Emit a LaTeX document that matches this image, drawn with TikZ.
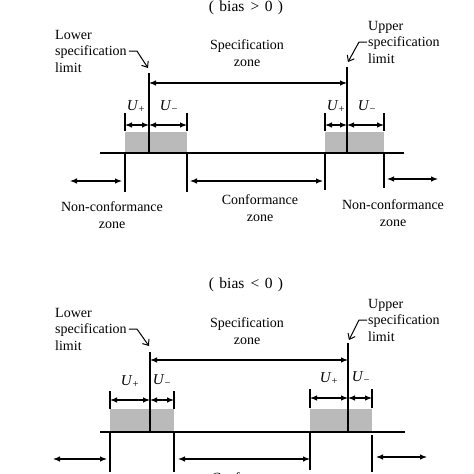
\documentclass[tikz,border=0pt]{standalone}
\usepackage{fontspec}
\setmainfont{Liberation Serif}
\usetikzlibrary{arrows.meta}

\newcommand{\Up}{\textit{U}\textsubscript{+}}
\newcommand{\Um}{\textit{U}\textsubscript{−}}
\newcommand{\biastitle}[1]{(\hspace{0.35em}bias\hspace{0.4em}#1\hspace{0.35em}0\hspace{0.35em})}

\begin{document}
\begin{tikzpicture}[
  x=1pt, y=-1pt,
  every node/.style={font=\fontsize{14}{16.5}\selectfont,
                     align=center, inner sep=0pt},
  title/.style={font=\fontsize{15.5}{18}\selectfont},
  ulabel/.style={font=\fontsize{15}{18}\selectfont},
  axis/.style={line width=1.1pt},
  limit/.style={line width=1.5pt},
  tick/.style={line width=1.1pt},
  dim/.style={line width=1.1pt, {Latex[length=7pt,width=5.5pt]}-{Latex[length=7pt,width=5.5pt]}},
  pointer/.style={line width=1pt, -{Straight Barb[length=5pt,width=8pt]}},
  band/.style={fill=black!27},
]
\clip (0,0) rectangle (474,474);

% ---- bias > 0 ----
\node[title] (titleA) at (246,8) {\biastitle{>}};
\node[align=left, anchor=west] (lowA) at (55,51) {Lower\\specification\\limit};
\node[align=left, anchor=west] (uppA) at (368,42) {Upper\\specification\\limit};
\node (specA) at (247,53) {Specification\\zone};

\fill[band] (125,132) rectangle (187,153);
\fill[band] (325,132) rectangle (384,153);

\coordinate (lslA) at (149,73);
\coordinate (uslA) at (347,67);
\draw[limit] (lslA) -- (149,153);
\draw[limit] (uslA) -- (347,153);
\draw[axis] (100,153) -- (404,153);

\draw[pointer] (lowA.east) ++(2,0) -- ++(8,0) -- (148,68);
\draw[pointer] (uppA.west) ++(-1,0) -- ++(-8,0) -- (348,62);

\draw[dim] (149,83) -- (347,83);

% uncertainty bands
\draw[tick] (125,113) -- (125,131);
\draw[tick] (187,113) -- (187,131);
\draw[tick] (325,113) -- (325,131);
\draw[tick] (384,113) -- (384,131);
\draw[dim] (125,125) -- (149,125);
\draw[dim] (149,125) -- (187,125);
\draw[dim] (325,125) -- (347,125);
\draw[dim] (347,125) -- (384,125);
\node[ulabel] (upA1) at (136,107) {\Up};
\node[ulabel] (umA1) at (169,107) {\Um};
\node[ulabel] (upA2) at (336,107) {\Up};
\node[ulabel] (umA2) at (367,107) {\Um};

% zones
\draw[tick] (125,153) -- (125,192);
\draw[tick] (187,153) -- (187,192);
\draw[tick] (325,153) -- (325,190);
\draw[tick] (384,153) -- (384,188);
\draw[dim] (70,181) -- (122,181);
\draw[dim] (190,181) -- (323,181);
\draw[dim] (387,179) -- (438,179);
\node (ncA1) at (112,215) {Non-conformance\\zone};
\node (cfA) at (260,208) {Conformance\\zone};
\node (ncA2) at (393,213) {Non-conformance\\zone};

% ---- bias < 0 ----
\node[title] (titleB) at (246,285) {\biastitle{<}};
\node[align=left, anchor=west] (lowB) at (55,329) {Lower\\specification\\limit};
\node[align=left, anchor=west] (uppB) at (368,320) {Upper\\specification\\limit};
\node (specB) at (247,331) {Specification\\zone};

\fill[band] (110,409) rectangle (174,432);
\fill[band] (310,409) rectangle (372,432);

\coordinate (lslB) at (150,352);
\coordinate (uslB) at (348,343);
\draw[limit] (lslB) -- (150,432);
\draw[limit] (uslB) -- (348,432);
\draw[axis] (100,432) -- (405,432);

\draw[pointer] (lowB.east) ++(2,0) -- ++(8,0) -- (149,346);
\draw[pointer] (uppB.west) ++(-1,0) -- ++(-8,0) -- (349,340);

\draw[dim] (150,360) -- (348,360);

% uncertainty bands
\draw[tick] (110,391) -- (110,409);
\draw[tick] (174,391) -- (174,409);
\draw[tick] (310,389) -- (310,408);
\draw[tick] (372,389) -- (372,408);
\draw[dim] (110,400) -- (150,400);
\draw[dim] (150,400) -- (174,400);
\draw[dim] (310,398) -- (348,398);
\draw[dim] (348,398) -- (372,398);
\node[ulabel] (upB1) at (130,382) {\Up};
\node[ulabel] (umB1) at (162,381) {\Um};
\node[ulabel] (upB2) at (329,379) {\Up};
\node[ulabel] (umB2) at (361,378) {\Um};

% zones
\draw[tick] (110,432) -- (110,472);
\draw[tick] (174,432) -- (174,472);
\draw[tick] (310,432) -- (310,470);
\draw[tick] (372,435) -- (372,472);
\draw[dim] (53,459) -- (107,459);
\draw[dim] (178,459) -- (310,459);
\draw[dim] (376,457) -- (427,457);
\node (cfB) at (250,486) {Conformance\\zone};
\end{tikzpicture}
\end{document}
